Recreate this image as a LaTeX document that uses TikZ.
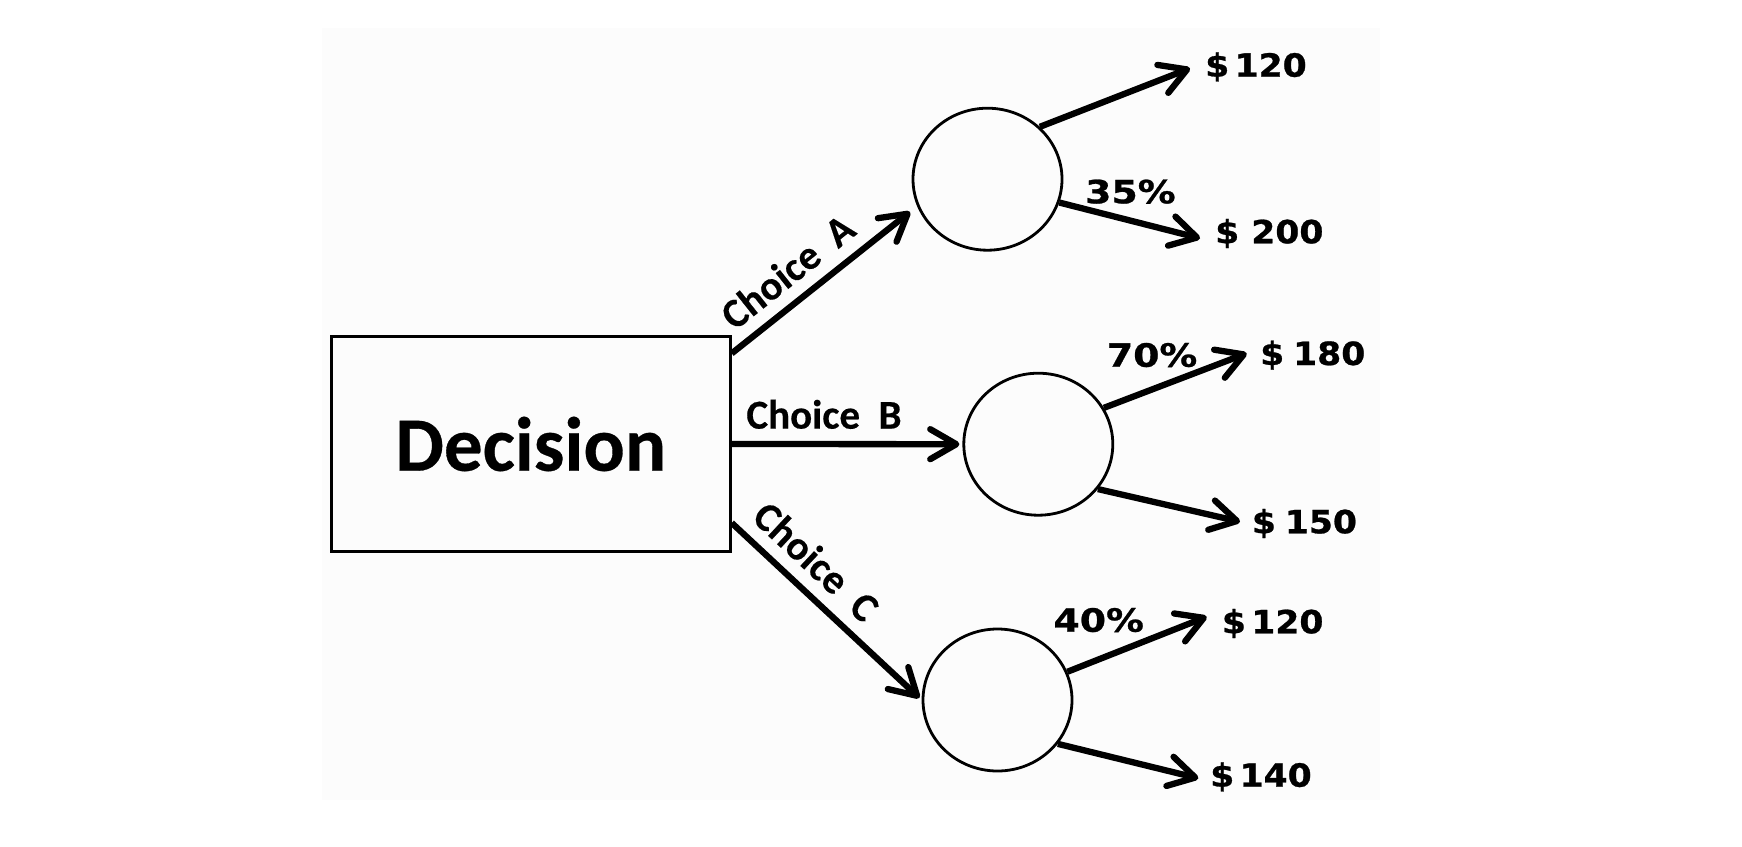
\documentclass[tikz,border=0pt]{standalone}
\usepackage{fontspec}
\newfontfamily\calb[FakeBold=0.4]{Carlito}
\newfontfamily\numf[FakeStretch=1.08,FakeBold=0.8]{DejaVu Sans}
\newfontfamily\pctf[FakeStretch=1.18,FakeBold=0.8]{DejaVu Sans}
\usetikzlibrary{arrows.meta,shapes.geometric}
\begin{document}
\begin{tikzpicture}[x=1pt,y=-1pt,
  arr/.style={line width=6.3pt, -{Straight Barb[length=26pt,width=30pt,round]}},
  chance/.style={ellipse, draw, line width=2.8pt, minimum width=149pt, minimum height=142pt, inner sep=0pt},
  val/.style={font=\numf\bfseries\fontsize{32}{36}\selectfont, inner sep=0pt, anchor=base west},
  pct/.style={font=\pctf\bfseries\fontsize{32}{36}\selectfont, inner sep=0pt, anchor=base west},
  lab/.style={font=\calb\bfseries\fontsize{41}{48}\selectfont, inner sep=0pt, sloped, above=12pt},
  decbox/.style={draw, line width=2.8pt, minimum width=399pt, minimum height=215pt, inner sep=0pt,
    font=\calb\bfseries\fontsize{77}{90}\selectfont}]
\useasboundingbox (0,0) rectangle (1742,846);
\fill[black!1] (322,28) rectangle (1380,800);

\node[decbox] (dec) at (530.8,444) {Decision};

\node[chance] (cA) at (987.5,179.2) {};
\node[chance] (cB) at (1038.3,444.2) {};
\node[chance] (cC) at (997.5,700) {};

\coordinate (sa) at ([yshift=-18.3pt]dec.north east);
\coordinate (sc) at ([yshift=30pt]dec.south east);

\draw[arr, shorten >=9pt] (sa) -- node[lab, pos=0.40] {Choice~~A} (cA.201);
\draw[arr, shorten >=3pt] (dec.east) -- node[lab, pos=0.40] {Choice~~B} (cB.west);
\draw[arr, shorten >=3pt] (sc) -- node[lab, pos=0.34] {Choice~~C} (cC.west);

\coordinate (tA1) at (1190,68.3);
\coordinate (tA2) at (1200,238.3);
\coordinate (tB1) at (1246.7,353.3);
\coordinate (tB2) at (1240,521.7);
\coordinate (tC1) at (1206.7,616.7);
\coordinate (tC2) at (1198.3,778.3);

\draw[arr] (cA.45) -- (tA1);
\draw[arr] (cA.-18) -- (tA2);
\draw[arr] (cB.29) -- (tB1);
\draw[arr] (cB.-37) -- (tB2);
\draw[arr] (cC.22) -- (tC1);
\draw[arr] (cC.-36) -- (tC2);

\node[val] (vA1) at (1205,76.7) {\$\,120};
\node[val] (vA2) at (1215,243.3) {\$ 200};
\node[pct] (pA) at (1085,203.3) {35\%};
\node[pct] (pB) at (1106.7,366.7) {70\%};
\node[val] (vB1) at (1260,365) {\$\;180};
\node[val] (vB2) at (1251.7,533.3) {\$\;150};
\node[pct] (pC) at (1053.3,631.7) {40\%};
\node[val] (vC1) at (1221.7,633.3) {\$\,120};
\node[val] (vC2) at (1210,786.7) {\$\,140};
\end{tikzpicture}
\end{document}
